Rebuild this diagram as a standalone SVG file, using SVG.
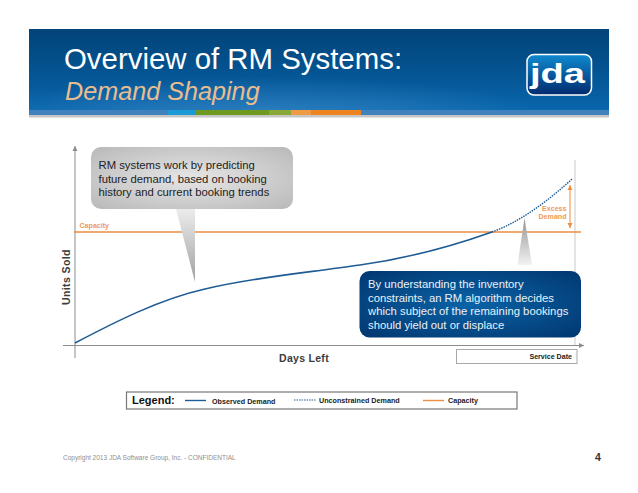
<svg xmlns="http://www.w3.org/2000/svg" width="638" height="493" viewBox="0 0 638 493">
<style>
text{font-family:"Liberation Sans",Arial,sans-serif}
.ax{stroke:#8c8c8c;stroke-width:1;fill:none}
.cap{stroke:#ee8c3f;stroke-width:1.6;fill:none}
.obs{stroke:#1f5c94;stroke-width:1.6;fill:none}
.unc{stroke:#1f5c94;stroke-width:1.4;fill:none;stroke-dasharray:1.5 1}
.call{font-size:11.3px}
.leg{font-size:7.2px;font-weight:bold;fill:#222}
.ex{font-size:7.1px;font-weight:bold;fill:#ee9a5c;text-anchor:end}
</style>
<defs>
<linearGradient id="hd" x1="0" y1="0" x2="0" y2="1"><stop offset="0" stop-color="#024379"/><stop offset="0.45" stop-color="#03528f"/><stop offset="1" stop-color="#0a68b0"/></linearGradient>
<radialGradient id="glow" cx="0.4" cy="1.05" r="0.5"><stop offset="0" stop-color="#4a94cf" stop-opacity=".6"/><stop offset="1" stop-color="#4a94cf" stop-opacity="0"/></radialGradient>
<radialGradient id="gr" cx="0.5" cy="0.5" r="0.7"><stop offset="0" stop-color="#e6e6e6"/><stop offset="1" stop-color="#b9b9b9"/></radialGradient>
<radialGradient id="bl" cx="0.5" cy="0.5" r="0.65"><stop offset="0" stop-color="#0a63a8"/><stop offset="1" stop-color="#023a73"/></radialGradient>
<linearGradient id="t1" x1="0" y1="0" x2="0" y2="1"><stop offset="0" stop-color="#ececec"/><stop offset="1" stop-color="#a0a0a0"/></linearGradient>
<linearGradient id="t2" x1="0" y1="1" x2="0" y2="0"><stop offset="0" stop-color="#f2f2f2"/><stop offset="1" stop-color="#949494"/></linearGradient>
<linearGradient id="logo" x1="0" y1="0" x2="0" y2="1"><stop offset="0" stop-color="#0f8ad0"/><stop offset="1" stop-color="#032a6e"/></linearGradient>
<marker id="ah" markerWidth="6" markerHeight="6" refX="5" refY="3" orient="auto" markerUnits="userSpaceOnUse"><path d="M0 0.5L5 3L0 5.500Z" fill="#8c8c8c"/></marker>
<marker id="oa" markerWidth="6" markerHeight="6" refX="5" refY="3" orient="auto-start-reverse" markerUnits="userSpaceOnUse"><path d="M0 0.5L5 3L0 5.500Z" fill="#ee8c3f"/></marker>
</defs>

<g id="header">
<rect x="29" y="115" width="580" height="2.500" fill="#c6c6c6"/>
<rect x="29" y="29" width="580" height="86" fill="url(#hd)"/>
<rect x="29" y="29" width="580" height="86" fill="url(#glow)"/>
<rect x="29" y="110" width="580" height="5" fill="#3f82bd"/>
<rect x="168" y="110" width="28" height="5" fill="#1b9ad6"/>
<rect x="196" y="110" width="73" height="5" fill="#6f9a22"/>
<rect x="269" y="110" width="22" height="5" fill="#8aa83a"/>
<rect x="291" y="110" width="20" height="5" fill="#ef9a45"/>
<rect x="311" y="110" width="50" height="5" fill="#ee8420"/>
<text x="64" y="69" font-size="29.400" fill="#fff">Overview of RM Systems:</text>
<text x="65" y="100" font-size="25.200" font-style="italic" fill="#e9bd8e">Demand Shaping</text>
</g>
<g id="logo-badge">
<rect x="527" y="54.500" width="64.500" height="40.500" rx="7" fill="url(#logo)" stroke="#fff" stroke-width="1.500"/>
<text x="530" y="83" font-size="27" font-weight="bold" fill="#fff" textLength="55" lengthAdjust="spacingAndGlyphs">jda</text>
</g>

<g id="connectors">
<path class="ax" d="M75 358V146" marker-end="url(#ah)"/>
<path class="ax" d="M63 345.500H584" marker-end="url(#ah)"/>
<path d="M575 160V345" stroke="#c9c9c9" stroke-width="1" fill="none"/>
<path class="cap" d="M74 232H581"/>
<path class="obs" d="M75 343C115 322 160 299 205 289C255 277 305 273 360 265C410 258 450 247 492 232"/>
<path class="unc" d="M492 232C520 222 548 201 572 179"/>
<path d="M570 185V228" stroke="#ee8c3f" stroke-width="1" fill="none" marker-start="url(#oa)" marker-end="url(#oa)"/>
</g>

<g id="callout-gray">
<path d="M176 209H195V282Z" fill="url(#t1)"/>
<rect x="91" y="147" width="202" height="62" rx="10" fill="url(#gr)"/>
<text class="call" fill="#222" x="98.500" y="169">RM systems work by predicting</text>
<text class="call" fill="#222" x="98.500" y="182.500">future demand, based on booking</text>
<text class="call" fill="#222" x="98.500" y="196">history and current booking trends</text>
</g>
<g id="callout-blue">
<path d="M517.500 265L524.500 218L532 265Z" fill="url(#t2)"/>
<rect x="359.500" y="271" width="221.500" height="66.500" rx="10" fill="url(#bl)"/>
<text class="call" fill="#eaf2f8" x="368" y="288">By understanding the inventory</text>
<text class="call" fill="#eaf2f8" x="368" y="302">constraints, an RM algorithm decides</text>
<text class="call" fill="#eaf2f8" x="368" y="315">which subject of the remaining bookings</text>
<text class="call" fill="#eaf2f8" x="368" y="329">should yield out or displace</text>
</g>

<g id="labels">
<text x="79.500" y="228" font-size="7.100" font-weight="bold" fill="#ee9a5c">Capacity</text>
<text class="ex" x="566.500" y="210.500">Excess</text>
<text class="ex" x="566.500" y="218.500">Demand</text>
<text transform="translate(70 305) rotate(-90)" font-size="10.500" font-weight="bold" fill="#3c3c3c" letter-spacing=".4">Units Sold</text>
<text x="279" y="362" font-size="10.500" font-weight="bold" fill="#3c3c3c" letter-spacing=".3">Days Left</text>
</g>
<g id="service-date">
<rect x="456.500" y="349.500" width="120.500" height="14" fill="#fff" stroke="#a8a8a8"/>
<text x="572" y="358.500" font-size="7.100" font-weight="bold" fill="#222" text-anchor="end">Service Date</text>
</g>

<g id="legend">
<rect x="126.500" y="392" width="390.500" height="17" fill="#fff" stroke="#777" stroke-width="1.200"/>
<text x="132" y="404" font-size="11" font-weight="bold" fill="#111">Legend:</text>
<path d="M185 400.500H206" stroke="#1f5c94" stroke-width="1.400"/>
<text class="leg" x="212" y="403.500">Observed Demand</text>
<path d="M294 400H316" stroke="#1f5c94" stroke-width="1.200" stroke-dasharray="1.500 1"/>
<text class="leg" x="319" y="402.500">Unconstrained Demand</text>
<path d="M423 400.500H444" stroke="#ee8c3f" stroke-width="1.400"/>
<text class="leg" x="448" y="402.500">Capacity</text>
</g>

<g id="footer">
<text x="63" y="460" font-size="6.500" fill="#8f8f8f">Copyright 2013 JDA Software Group, Inc. - CONFIDENTIAL</text>
<text x="595" y="461" font-size="10.500" font-weight="bold" fill="#333">4</text>
</g>
</svg>
